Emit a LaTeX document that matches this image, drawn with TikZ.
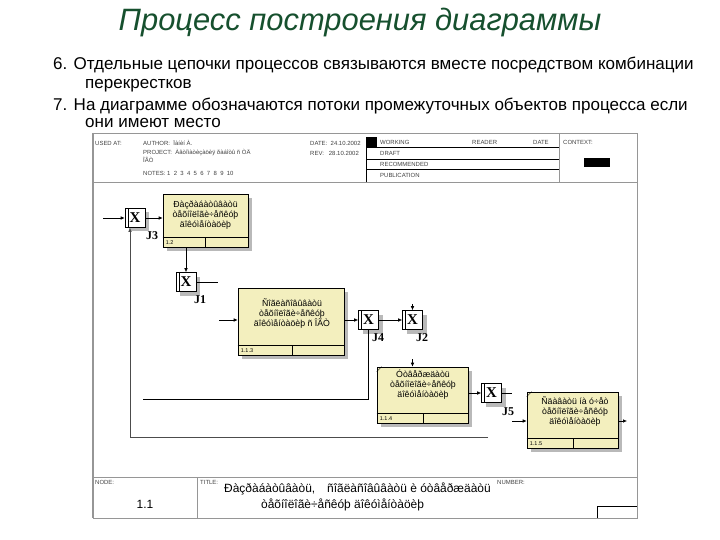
\documentclass[tikz,border=0pt]{standalone}
\usepackage{fontspec}
\setmainfont{Liberation Sans}
\newfontfamily\jfont{Liberation Serif}
\usetikzlibrary{shadows,arrows.meta}
\definecolor{boxyellow}{RGB}{243,239,190}
\definecolor{titlegreen}{RGB}{22,80,46}
\definecolor{framegray}{RGB}{150,150,150}
\begin{document}
\begin{tikzpicture}[x=1bp,y=-1bp,
  uob/.style={draw,fill=boxyellow,line width=0.6bp,inner sep=0pt,
    drop shadow={shadow xshift=4bp,shadow yshift=-4bp,fill=gray!55,opacity=1}},
  jbox/.style={draw,fill=white,minimum width=20bp,minimum height=19bp,inner sep=0pt,line width=0.6bp,
    font=\jfont\bfseries\fontsize{15}{15}\selectfont,
    drop shadow={shadow xshift=4bp,shadow yshift=-4bp,fill=gray!55,opacity=1}},
  jlab/.style={font=\jfont\bfseries\fontsize{12}{12}\selectfont,inner sep=0pt},
  btxt/.style={align=center,font=\fontsize{8.8}{10}\selectfont,inner sep=0pt},
  nlab/.style={anchor=west,font=\fontsize{5.5}{6}\selectfont,inner sep=0pt},
  hdr/.style={anchor=west,font=\fontsize{6}{7}\selectfont,text=black!75,inner sep=0pt},
  slide/.style={anchor=base west,inner sep=0pt,font=\fontsize{17.1}{19}\selectfont},
  flow/.style={-{Latex[length=4bp,width=3.5bp]},line width=0.6bp}]
\useasboundingbox (0,0) rectangle (720,540);
\node[text=titlegreen,font=\itshape\fontsize{31}{34}\selectfont] (ttl) at (360,23) {Процесс построения диаграммы};
\node[slide] (t6a) at (53,70) {6. Отдельные цепочки процессов связываются вместе посредством комбинации};
\node[slide] (t6b) at (85,89) {перекрестков};
\node[slide] (t7a) at (53,111) {7. На диаграмме обозначаются потоки промежуточных объектов процесса если};
\node[slide] (t7b) at (85,128) {они имеют место};
\draw[framegray] (93,133) rectangle (637,518);
\draw[framegray,line width=1.6bp] (93,133) -- (93,518);
\draw[framegray] (93,182) -- (637,182);
\draw[framegray] (559,133) -- (559,182);
\draw (366,147) -- (366,182);
\foreach \y in {147,159} { \draw (366,\y) -- (559,\y); }
\draw[line width=0.9bp] (366,169) -- (559,169);
\fill (366,137) rectangle (377,147);
\fill (584,158) rectangle (610,167);
\node[hdr] (usedat) at (95,143) {USED AT:};
\node[hdr] (author) at (143,143) {AUTHOR:\ \ Ïàíèí À.};
\node[hdr] (project) at (143,153) {PROJECT:\ \ Àâòîìàòèçàöèÿ ðàáîòû ñ ÒÄ};
\node[hdr] (project2) at (143,160) {ÎÃÒ};
\node[hdr] (notes) at (143,173) {NOTES:\ 1\ \ 2\ \ 3\ \ 4\ \ 5\ \ 6\ \ 7\ \ 8\ \ 9\ \ 10};
\node[hdr] (date) at (310,143) {DATE:\ \ 24.10.2002};
\node[hdr] (rev) at (310,153) {REV:\ \ \ 28.10.2002};
\node[hdr] (working) at (380,142) {WORKING};
\node[hdr] (draft) at (380,153) {DRAFT};
\node[hdr] (recomm) at (380,164) {RECOMMENDED};
\node[hdr] (public) at (380,175) {PUBLICATION};
\node[hdr] (reader) at (472,142) {READER};
\node[hdr] (rdate) at (533,142) {DATE};
\node[hdr] (context) at (563,142) {CONTEXT:};
\draw[framegray] (93,477) -- (637,477);
\draw[framegray] (197,477) -- (197,518);
\draw (597,518) |- (637,506);
\node[hdr] (node) at (95,482) {NODE:};
\node[anchor=center,inner sep=0pt,font=\fontsize{12}{12}\selectfont] (nodenum) at (145,504) {1.1};
\node[hdr,anchor=north west] (title) at (200,480) {TITLE:};
\node[hdr,anchor=north west] (number) at (497,480) {NUMBER:};
\node[anchor=west,inner sep=0pt,font=\fontsize{12}{12}\selectfont] (ttl1) at (224,489) {Ðàçðàáàòûâàòü,\quad ñîãëàñîâûâàòü è óòâåðæäàòü};
\node[anchor=west,inner sep=0pt,font=\fontsize{12}{12}\selectfont] (ttl2) at (261,505) {òåõíîëîãè÷åñêóþ äîêóìåíòàöèþ};
\node[uob,minimum width=85bp,minimum height=53bp] (p12) at (205.5,220.5) {};
\node[uob,minimum width=106bp,minimum height=67bp] (p113) at (291,321.5) {};
\node[uob,minimum width=91bp,minimum height=56bp] (p114) at (422.5,395) {};
\node[uob,minimum width=91bp,minimum height=56bp] (p115) at (572.5,420) {};
\foreach \b/\d in {p12/42,p113/54,p114/46,p115/46} {
  \draw[line width=0.8bp] ([yshift=10bp]\b.south west) -- ([yshift=10bp]\b.south east);
  \draw ([xshift=\d bp]\b.south west) -- ++(0,-10);
}
\foreach \b in {p114,p115} { \draw ([yshift=-5bp]\b.north west) -- ([xshift=5bp]\b.north west); }
\node[btxt] (p12t) at (205.5,215) {Ðàçðàáàòûâàòü\\òåõíîëîãè÷åñêóþ\\äîêóìåíòàöèþ};
\node[btxt] (p113t) at (292,314) {Ñîãëàñîâûâàòü\\òåõíîëîãè÷åñêóþ\\äîêóìåíòàöèþ ñ ÎÃÒ};
\node[btxt] (p114t) at (423,385) {Óòâåðæäàòü\\òåõíîëîãè÷åñêóþ\\äîêóìåíòàöèþ};
\node[btxt] (p115t) at (575,412) {Ñäàâàòü íà ó÷åò\\òåõíîëîãè÷åñêóþ\\äîêóìåíòàöèþ};
\node[nlab] (n12) at ([xshift=3bp,yshift=5bp]p12.south west) {1.2};
\node[nlab] (n113) at ([xshift=3bp,yshift=5bp]p113.south west) {1.1.3};
\node[nlab] (n114) at ([xshift=3bp,yshift=5bp]p114.south west) {1.1.4};
\node[nlab] (n115) at ([xshift=3bp,yshift=5bp]p115.south west) {1.1.5};
\node[jbox] (j3) at (135,218) {X};
\node[jbox] (j1) at (186,282) {X};
\node[jbox] (j4) at (368.5,320) {X};
\node[jbox] (j2) at (412.5,320) {X};
\node[jbox] (j5) at (491.5,393) {X};
\foreach \j in {j3,j1,j4,j2,j5} { \draw ([xshift=3bp]\j.north west) -- ([xshift=3bp]\j.south west); }
\node[jlab] (lj3) at (152,236) {J3};
\node[jlab] (lj1) at (200,300) {J1};
\node[jlab] (lj4) at (378,338) {J4};
\node[jlab] (lj2) at (422,338) {J2};
\node[jlab] (lj5) at (508,412) {J5};
\coordinate (in3) at (103,218);
\coordinate (j1end) at (218,282);
\coordinate (in113) at (219,320);
\coordinate (j2top) at (412.5,304);
\coordinate (in114) at (412.5,359);
\coordinate (back4) at (143,399);
\coordinate (back5) at (488,437);
\coordinate (j5end) at (512,393);
\coordinate (in115) at (512,421);
\coordinate (out115) at (627,421);
\draw[flow] (in3) -- (j3.west);
\draw[flow] (j3.east) -- (j3 -| p12.west);
\draw[flow] (p12.south -| j1) -- (j1.north);
\draw[line width=0.6bp] (j1.east) -- (j1end);
\draw[flow] (in113) -- (in113 -| p113.west);
\draw[flow] (p113.east |- j4) -- (j4.west);
\draw[flow] (j4.east) -- (j2.west);
\draw[flow] (j2top) -- (j2.north);
\draw[flow] (in114) -- (in114 |- p114.north);
\draw[line width=1bp] (j4.south) |- (back4);
\draw[flow,black!70] (back5) -| ([xshift=-5bp]j3.south);
\draw[flow] (p114.east |- j5) -- (j5.west);
\draw[line width=0.6bp] (j5.east) -- (j5end);
\draw[flow] (in115) -- (in115 -| p115.west);
\draw[flow] (p115.east |- out115) -- (out115);
\end{tikzpicture}
\end{document}
